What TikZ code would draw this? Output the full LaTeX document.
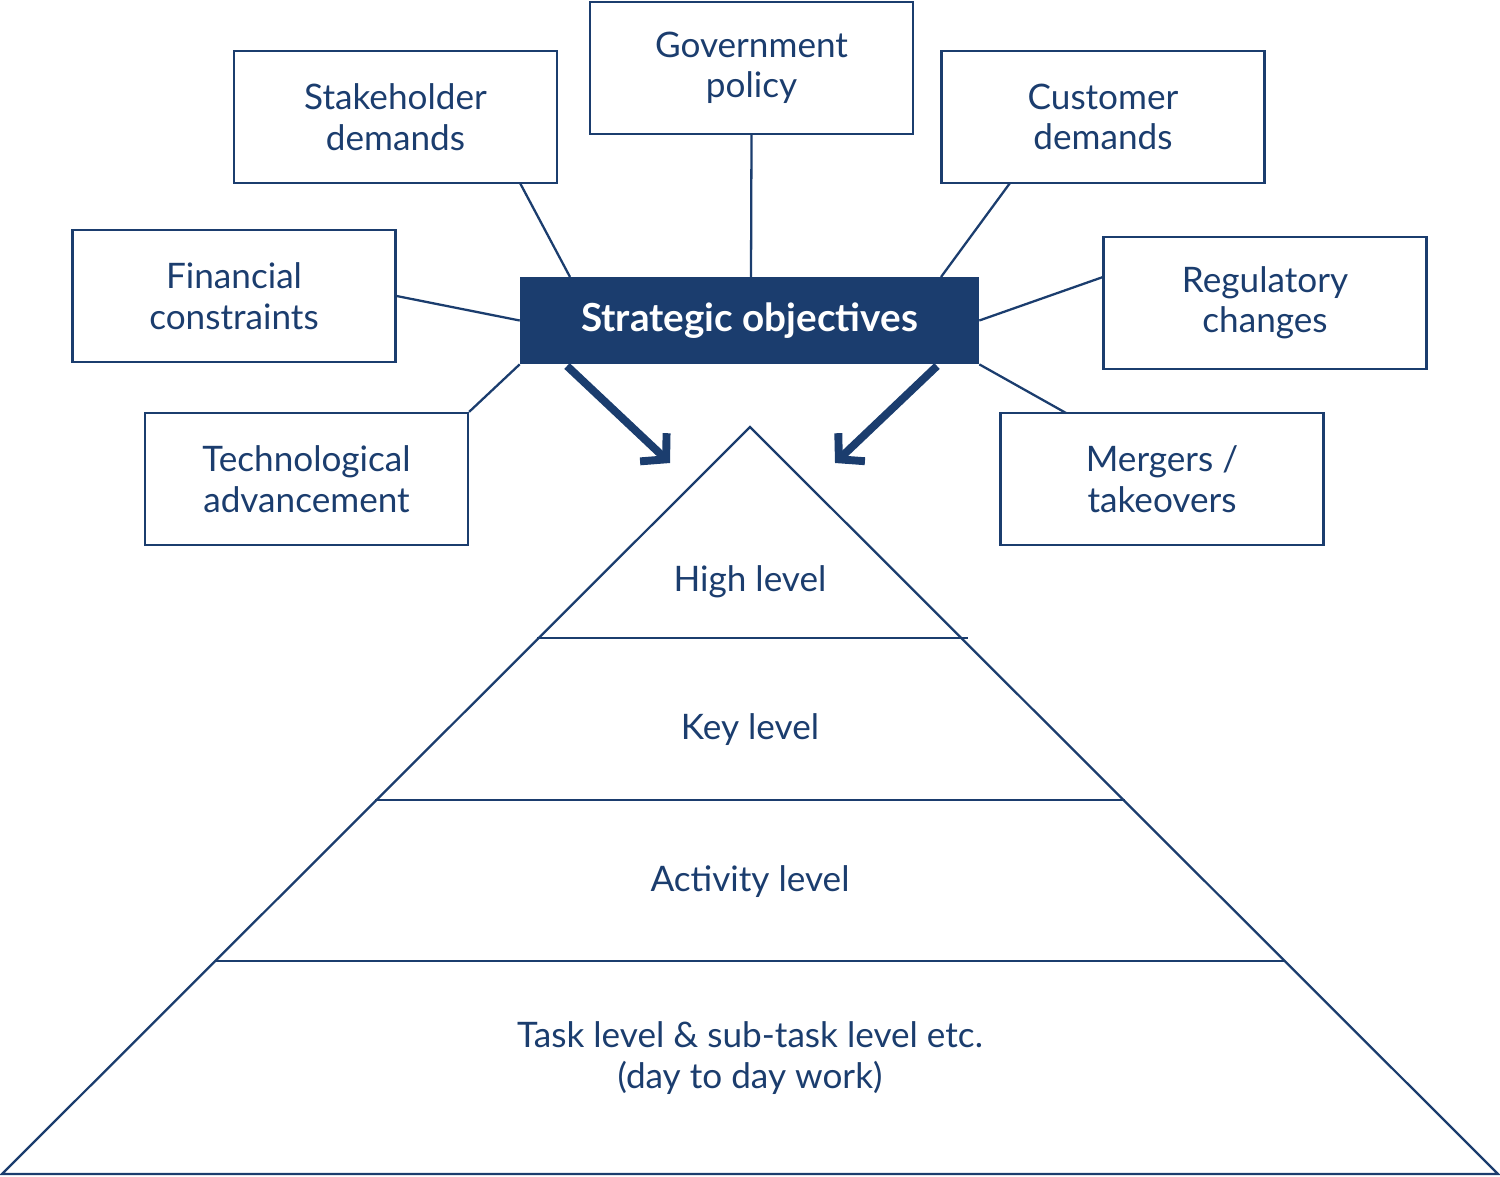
\documentclass[tikz,border=0pt]{standalone}
\usepackage{fontspec}
\setmainfont{Lato}
\usetikzlibrary{arrows.meta}
\definecolor{navy}{HTML}{1B3D6E}
\begin{document}
\begin{tikzpicture}[x=0.02cm,y=-0.02cm,
  box/.style={draw=navy,line width=1.3pt,minimum width=6.46cm,minimum height=2.64cm,align=center,text=navy,font=\fontsize{20}{23}\selectfont,inner sep=0pt},
  lnk/.style={draw=navy,line width=1.3pt},
  lvl/.style={text=navy,font=\fontsize{20}{23}\selectfont,align=center}]
\useasboundingbox (0,0) rectangle (1500,1176);
\node[box] (stake) at (395.5,117) {Stakeholder\\demands};
\node[box] (gov) at (751.5,68) {Government\\policy};
\node[box] (cust) at (1103,117) {Customer\\demands};
\node[box] (fin) at (234,296) {Financial\\constraints};
\node[box] (reg) at (1265,303) {Regulatory\\changes};
\node[box] (tech) at (306.5,479) {Technological\\advancement};
\node[box] (merg) at (1162,479) {Mergers /\\takeovers};
\node[fill=navy,minimum width=9.18cm,minimum height=1.74cm,inner sep=0pt,text=white,font=\bfseries\fontsize{22}{26}\selectfont] (so) at (749.5,320.5) {Strategic objectives};
\coordinate (s1) at (520,183); \coordinate (s2) at (570,277);
\draw[lnk] (s1) -- (s2);
\draw[lnk] (gov.south) -- (751,277);
\coordinate (c1) at (1010,183); \coordinate (c2) at (941,277);
\draw[lnk] (c1) -- (c2);
\draw[lnk] (fin.east) -- (so.west);
\coordinate (r1) at (1103,277);
\draw[lnk] (r1) -- (so.east);
\draw[lnk] (tech.north east) -- (so.south west);
\coordinate (m1) at (1066,413);
\draw[lnk] (m1) -- (so.south east);
\coordinate (a1) at (567,366); \coordinate (a2) at (670,463);
\coordinate (b1) at (937,366); \coordinate (b2) at (835,463);
\draw[navy,line width=4.5pt,-{Straight Barb[length=10pt,width=22pt]}] (a1) -- (a2);
\draw[navy,line width=4.5pt,-{Straight Barb[length=10pt,width=22pt]}] (b1) -- (b2);
\coordinate (apex) at (750,427); \coordinate (bl) at (2,1174); \coordinate (br) at (1498,1174);
\draw[lnk,line join=miter] (bl) -- (apex) -- (br) -- cycle;
\coordinate (h1) at (537,638); \coordinate (h2) at (968,638);
\coordinate (k1) at (375,800); \coordinate (k2) at (1125,800);
\coordinate (t1) at (216,961); \coordinate (t2) at (1284,961);
\draw[lnk] (h1) -- (h2); \draw[lnk] (k1) -- (k2); \draw[lnk] (t1) -- (t2);
\node[lvl] (hl) at (750,582) {High level};
\node[lvl] (kl) at (750,730) {Key level};
\node[lvl] (al) at (750,882) {Activity level};
\node[lvl] (tl) at (750,1058) {Task level \& sub-task level etc.\\(day to day work)};
\end{tikzpicture}
\end{document}
